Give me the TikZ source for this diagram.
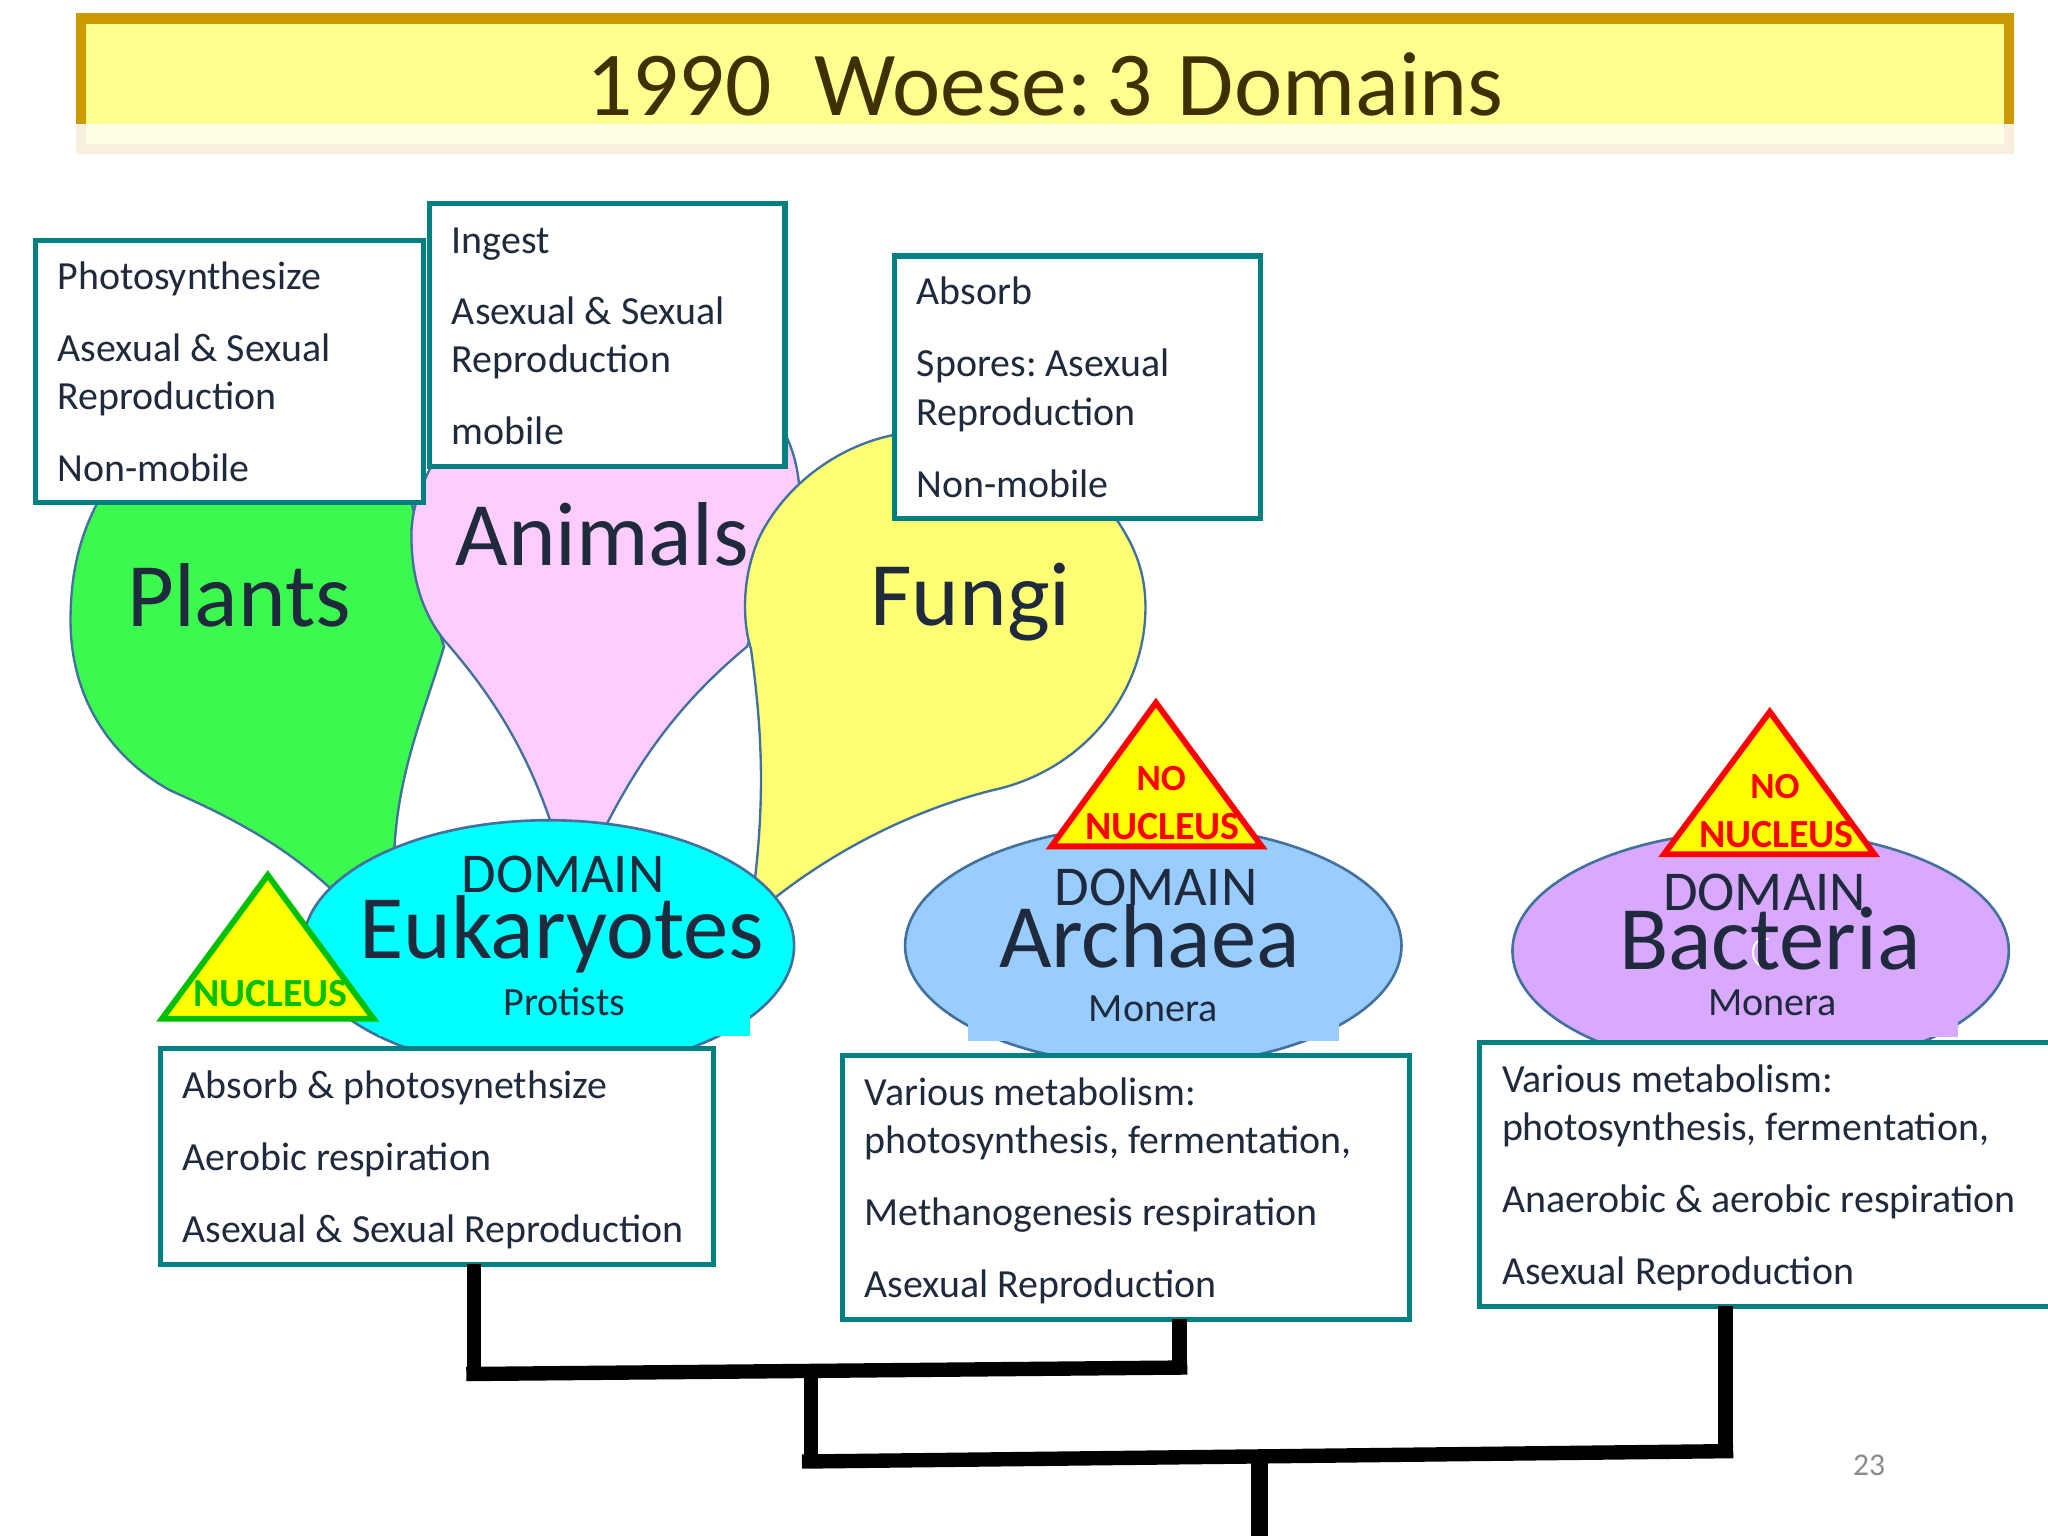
\documentclass[tikz,border=0pt]{standalone}
\usepackage{fontspec}
\setmainfont{Carlito}
\usetikzlibrary{shapes.geometric}
\newcommand\unt{0.013061cm}
\newcommand\topstrut{\rule{0pt}{9.8pt}}
\definecolor{gold}{HTML}{CC9900}
\definecolor{bandyel}{HTML}{FFFF8F}
\definecolor{paleout}{HTML}{F6F0DC}
\definecolor{palein}{HTML}{FFFFE6}
\definecolor{titletx}{HTML}{403000}
\definecolor{teal2}{HTML}{008080}
\definecolor{bluel}{HTML}{41719C}
\definecolor{ink}{HTML}{1F2A3C}
\definecolor{plantg}{HTML}{3CF950}
\definecolor{animp}{HTML}{FFCCFF}
\definecolor{fungy}{HTML}{FFFF73}
\definecolor{aquac}{HTML}{00FFFF}
\definecolor{archb}{HTML}{99CCFF}
\definecolor{bactp}{HTML}{D9A9FF}
\definecolor{nucg}{HTML}{00C000}
\definecolor{triy}{HTML}{FFFF00}
\definecolor{trir}{HTML}{FF0000}
\tikzset{
  x=\unt,y=-\unt,
  infobox/.style={draw=teal2,fill=white,line width=4*\unt,align=left,anchor=north west,outer sep=0pt,inner xsep=17*\unt,inner ysep=0pt,
     font=\fontsize{11.35}{13.75}\selectfont,text=ink,
     execute at begin node={\spaceskip=0.226em\xspaceskip=0.226em\relax}},
  blob/.style={draw=bluel,line width=1.8*\unt},
  domainell/.style={ellipse,draw=bluel,line width=2*\unt,inner sep=0pt},
  tri/.style={line width=4.5*\unt,line join=miter,fill=triy},
  branch/.style={line width=11*\unt,draw=black,line cap=butt,line join=miter},
  big/.style={text=ink,inner sep=0pt,anchor=base,font=\fontsize{25.8}{26}\selectfont},
  domtx/.style={text=ink,inner sep=0pt,anchor=base,font=\fontsize{16}{16}\selectfont},
  kingtx/.style={text=ink,inner sep=0pt,font=\fontsize{11.4}{12}\selectfont},
  notx/.style={inner sep=0pt,font=\bfseries\fontsize{11.35}{12}\selectfont},
  nosm/.style={inner sep=0pt,font=\bfseries\fontsize{10.5}{11}\selectfont},
}
\begin{document}
\begin{tikzpicture}
\useasboundingbox (0,0) rectangle (1568,1176);
\fill[white] (0,0) rectangle (1568,1176);
% title band
\fill[gold] (58,10) rectangle (1542,95);
\fill[bandyel] (66,18) rectangle (1534,95);
\fill[paleout] (58,95) rectangle (1542,118);
\fill[palein] (66,95) rectangle (1534,110);
\node[inner sep=0pt,text=titletx,font=\fontsize{26}{27}\selectfont] (title) at (800,65) {1990\hspace{12.4pt}Woese:\hspace{4.2pt}3\hspace{7.1pt}Domains};
% blobs
\path[blob,fill=plantg] (300,690) -- (255,682) .. controls (215,645) and (175,625) .. (130,605)
  .. controls (85,580) and (54,535) .. (54,475) .. controls (54,430) and (65,395) .. (90,360)
  -- (300,340) .. controls (325,400) and (325,450) .. (340,495)
  .. controls (325,545) and (305,590) .. (302,650) -- cycle;
\path[blob,fill=animp] (425,640) .. controls (405,575) and (375,530) .. (340,490)
  .. controls (320,465) and (315,435) .. (315,410) .. controls (315,385) and (325,365) .. (340,340)
  -- (600,330) .. controls (608,345) and (613,365) .. (612,385)
  -- (572,495) .. controls (530,530) and (495,570) .. (462,636) -- cycle;
\path[blob,fill=fungy] (576,690) .. controls (585,620) and (585,570) .. (575,497)
  .. controls (568,475) and (568,440) .. (582,410) .. controls (605,365) and (650,338) .. (690,332)
  -- (800,340) -- (855,398) .. controls (870,420) and (877,440) .. (877,465)
  .. controls (877,530) and (830,590) .. (760,605) .. controls (700,620) and (640,650) .. (590,690) -- cycle;
% domain ellipses
\node[domainell,fill=aquac,minimum width=376*\unt,minimum height=192*\unt] (eukell) at (420,724) {};
\fill[aquac] (290,750) rectangle (574,793);
\node[domainell,fill=archb,minimum width=380*\unt,minimum height=184*\unt] (arcell) at (883,724) {};
\fill[archb] (741,770) rectangle (1025,797);
\node[domainell,fill=bactp,minimum width=380*\unt,minimum height=184*\unt] (bacell) at (1348,728) {};
\fill[bactp] (1300,770) rectangle (1499,794);
\draw[white,line width=1.5*\unt] (1354,719) .. controls (1338,716) and (1338,742) .. (1354,740);
% big labels
\node[big] (plants) at (183,480) {Plants};
\node[big] (animals) at (461,433) {Animals};
\node[big] (fungi) at (743,479) {Fungi};
\node[domtx] (dom1) at (431,683) {DOMAIN};
\node[domtx] (dom2) at (885,693) {DOMAIN};
\node[domtx] (dom3) at (1351,697) {DOMAIN};
\node[big] (euk) at (430,734) {Eukaryotes};
\node[big] (arc) at (880,741) {Archaea};
\node[big] (bac) at (1355,742) {Bacteria};
\node[kingtx] (prot) at (432,767) {Protists};
\node[kingtx] (mon1) at (883,772) {Monera};
\node[kingtx] (mon2) at (1357,768) {Monera};
% triangles
\draw[tri,draw=nucg] (205,670) -- (124,780) -- (286,780) -- cycle;
\node[notx,text=nucg] (nuc) at (207,761) {NUCLEUS};
\draw[tri,draw=trir] (885,538) -- (805,648) -- (966,648) -- cycle;
\node[nosm,text=trir] (no1) at (889,596) {NO};
\node[notx,text=trir] (nn1) at (890,633) {NUCLEUS};
\draw[tri,draw=trir] (1355,545) -- (1274,654) -- (1435,654) -- cycle;
\node[nosm,text=trir] (no2) at (1359,602) {NO};
\node[notx,text=trir] (nn2) at (1360,639) {NUCLEUS};
% top boxes
\node[infobox,text width=263*\unt,minimum height=201*\unt] (plantbox) at (27,184) {Photosynthesize\\[6.7pt]Asexual \& Sexual\\Reproduction\\[6.7pt]Non-mobile};
\node[infobox,text width=238*\unt,minimum height=201*\unt] (animbox) at (329,156) {\rule{0pt}{8pt}Ingest\\[6.5pt]Asexual \& Sexual\\Reproduction\\[6.7pt]mobile};
\node[infobox,text width=246*\unt,minimum height=201*\unt] (fungbox) at (685,196) {Absorb\\[6.7pt]Spores: Asexual\\Reproduction\\[6.7pt]Non-mobile};
% bottom boxes
\node[infobox,text width=389*\unt,minimum height=165*\unt] (eukbox) at (123,803) {\topstrut Absorb \& photosynethsize\\[6.7pt]Aerobic respiration\\[6.7pt]Asexual \& Sexual Reproduction};
\node[infobox,text width=400*\unt,minimum height=202*\unt] (arcbox) at (645,808) {\topstrut Various metabolism:\\photosynthesis, fermentation,\\[6.7pt]Methanogenesis respiration\\[6.7pt]Asexual Reproduction};
\node[infobox,text width=416*\unt,minimum height=202*\unt] (bacbox) at (1133,798) {\topstrut Various metabolism:\\photosynthesis, fermentation,\\[6.7pt]Anaerobic \& aerobic respiration\\[6.7pt]Asexual Reproduction};
% tree
\coordinate (ja) at (363,1052);
\coordinate (jb) at (903,1047);
\coordinate (jm) at (621,1050);
\coordinate (jc) at (621,1119);
\coordinate (jd) at (1321,1111);
\coordinate (je) at (964,1116);
\coordinate (jf) at (964,1176);
\coordinate (jl) at (357,1052);
\coordinate (jr) at (909,1047);
\coordinate (jcl) at (614,1119);
\coordinate (jdr) at (1327,1111);
\draw[branch] (eukbox.south -| ja) -- (ja);
\draw[branch] (arcbox.south -| jb) -- (jb);
\draw[branch] (jl) -- (jr);
\draw[branch] (jm) -- (jc);
\draw[branch] (jcl) -- (jdr);
\draw[branch] (bacbox.south -| jd) -- (jd);
\draw[branch,line width=13*\unt] (je) -- (jf);
\node[inner sep=0pt,text=black!45,font=\fontsize{9}{10}\selectfont] (pg) at (1431,1122) {23};
\end{tikzpicture}
\end{document}
